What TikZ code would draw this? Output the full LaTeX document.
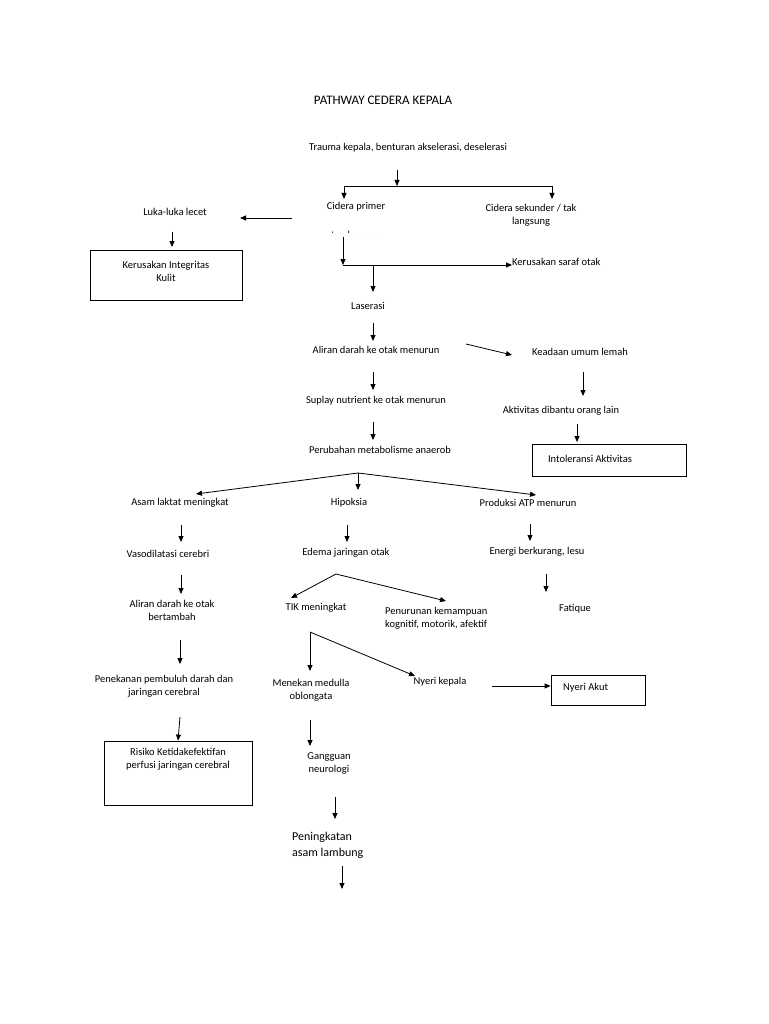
\documentclass[tikz,border=0pt]{standalone}
\usepackage{fontspec}
\setmainfont{Carlito}
\usetikzlibrary{arrows.meta}
\begin{document}
\begin{tikzpicture}[x=1pt,y=-1pt,
  t/.style={inner sep=0pt,font=\fontsize{10.5}{13}\selectfont,align=center},
  box/.style={draw,line width=0.8pt},
  ar/.style={-{Triangle[length=6pt,width=5pt]},line width=0.8pt},
  ln/.style={line width=0.8pt}]
\useasboundingbox (0,0) rectangle (768,1024);
\node[t,font=\fontsize{13}{15}\selectfont] (title) at (383,100) {PATHWAY CEDERA KEPALA};
\node[t] (trauma) at (408,148) {Trauma kepala, benturan akselerasi, deselerasi};
\coordinate (s1) at (397,170); \coordinate (s2) at (397,186);
\coordinate (h1) at (344,186); \coordinate (h2) at (552,186);
\draw[ar] (s1) -- (s2);
\draw[ln] (h1) -- (h2);
\node[t] (primer) at (356,207) {Cidera primer};
\begin{scope}
\clip (300,225) rectangle (420,233);
\node[t] (atau) at (356,236) {atau langsung};
\end{scope}
\node[t] (sekunder) at (531,215) {Cidera sekunder / tak\\langsung};
\draw[ar] (h1) -- (344,199);
\draw[ar] (h2) -- (552,199);
\coordinate (pl) at (292,218);
\node[t] (luka) at (175,212) {Luka-luka lecet};
\draw[ar] (pl) -- (240,218);
\draw[ar] (172,232) -- (172,247);
\node[box,minimum width=152pt,minimum height=50pt] (kulit) at (166,275) {};
\node[t] at (166,271) {Kerusakan Integritas\\Kulit};
\coordinate (v1) at (343,237); \coordinate (v2) at (343,265);
\draw[ar] (v1) -- (v2);
\node[t,anchor=west] (saraf) at (512,262) {Kerusakan saraf otak};
\draw[ar] (v2) -- (saraf.west|-v2);
\node[t] (laserasi) at (368,306) {Laserasi};
\draw[ar] (373,266) -- (373,292);
\node[t] (aliran) at (376,350) {Aliran darah ke otak menurun};
\draw[ar] (373,323) -- (373,341);
\node[t] (keadaan) at (580,352) {Keadaan umum lemah};
\draw[ar] (466,344) -- (512,355);
\node[t] (aktivitas) at (561,411) {Aktivitas dibantu orang lain};
\draw[ar] (583,372) -- (583,396);
\node[box,minimum width=154pt,minimum height=32pt] (intol) at (609,460) {};
\node[t] at (590,459) {Intoleransi Aktivitas};
\draw[ar] (577,424) -- (577,442);
\node[t] (suplay) at (376,401) {Suplay nutrient ke otak menurun};
\draw[ar] (373,372) -- (373,390);
\node[t] (perubahan) at (380,450) {Perubahan metabolisme anaerob};
\draw[ar] (373,422) -- (373,440);
\coordinate (ap1) at (358,473);
\node[t] (asam) at (180,503) {Asam laktat meningkat};
\node[t] (hipoksia) at (349,503) {Hipoksia};
\node[t] (atp) at (528,503) {Produksi ATP menurun};
\draw[ar] (ap1) -- (196,494);
\draw[ar] (ap1) -- (358,490);
\draw[ar] (ap1) -- (536,495);
\node[t] (vaso) at (168,554) {Vasodilatasi cerebri};
\node[t] (edema) at (346,553) {Edema jaringan otak};
\node[t] (energi) at (537,552) {Energi berkurang, lesu};
\draw[ar] (181,525) -- (181,542);
\draw[ar] (347,525) -- (347,542);
\draw[ar] (530,524) -- (530,541);
\node[t] (aliran2) at (172,610) {Aliran darah ke otak\\bertambah};
\node[t] (tik) at (316,608) {TIK meningkat};
\node[t,align=left,anchor=west] (penurunan) at (385,618) {Penurunan kemampuan\\kognitif, motorik, afektif};
\node[t] (fatique) at (575,609) {Fatique};
\coordinate (ap2) at (336,574);
\draw[ar] (181,575) -- (181,594);
\draw[ar] (ap2) -- (291,598);
\draw[ar] (ap2) -- (446,601);
\draw[ar] (546,574) -- (546,592);
\coordinate (ap3) at (310,632);
\node[t] (penekanan) at (164,686) {Penekanan pembuluh darah dan\\jaringan cerebral};
\node[t] (menekan) at (311,690) {Menekan medulla\\oblongata};
\node[t] (nyeri) at (440,682) {Nyeri kepala};
\draw[ar] (180,640) -- (180,664);
\draw[ar] (ap3) -- (310,671);
\draw[ar] (ap3) -- (415,676);
\node[box,minimum width=94pt,minimum height=30pt] (akut) at (598,690) {};
\node[t,anchor=west] at (563,688) {Nyeri Akut};
\draw[ar] (492,686) -- (akut.west|-0,686);
\node[box,minimum width=148pt,minimum height=64pt] (risiko) at (178,773) {};
\node[t] at (178,759) {Risiko Ketidakefektifan\\perfusi jaringan cerebral};
\draw[ar] (180,717) -- (risiko.north);
\node[t] (gangguan) at (329,763) {Gangguan\\neurologi};
\draw[ar] (310,720) -- (310,746);
\node[t,align=left,anchor=west,font=\fontsize{12}{16}\selectfont] (asaml) at (292,845) {Peningkatan\\asam lambung};
\draw[ar] (335,797) -- (335,819);
\draw[ar] (342,866) -- (342,889);
\end{tikzpicture}
\end{document}
